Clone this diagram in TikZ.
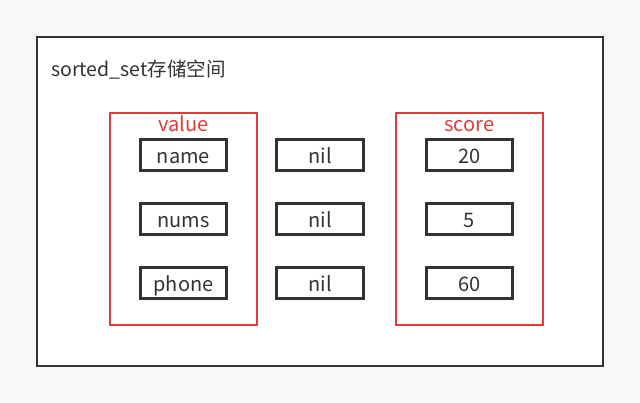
\documentclass[tikz,border=0pt]{standalone}
\usepackage{fontspec}
\setmainfont{Noto Sans CJK SC}
\definecolor{redline}{RGB}{229,57,53}
\definecolor{darkline}{RGB}{51,51,51}
\definecolor{pagebg}{RGB}{248,248,248}

\begin{document}
\begin{tikzpicture}[x=1pt,y=-1pt,
  cell/.style={draw=darkline,line width=2.6pt,minimum width=86.5pt,minimum height=31.5pt,
    inner sep=0pt,text height=16.5pt,text depth=0pt,text=darkline,
    font=\fontsize{20}{24}\selectfont},
  group/.style={draw=redline,line width=2.4pt},
  grouplabel/.style={text=redline,inner sep=0pt,anchor=base,
    font=\fontsize{20}{24}\selectfont}]
  % page and outer frame
  \fill[pagebg] (0,0) rectangle (640,403);
  \draw[darkline,line width=2.6pt,fill=white] (37,37) rectangle (603,366);
  \node[anchor=base west,inner sep=0pt,text=darkline,
    font=\fontsize{19.5}{24}\selectfont] (title) at (51,76.5) {sorted\_set存储空间};

  % red groups
  \draw[group] (110,113) rectangle (257,325);
  \draw[group] (396,113) rectangle (543,325);
  \node[grouplabel] (vlabel) at (183.5,131.5) {value};
  \node[grouplabel] (slabel) at (469.5,131.5) {score};

  \foreach \y/\v/\s [count=\i] in {155/name/20, 219/nums/5, 283/phone/60}{
    \node[cell] (val\i) at (183.5,\y) {\v};
    \node[cell] (nil\i) at (320,\y) {nil};
    \node[cell] (score\i) at (469.5,\y) {\s};
  }
\end{tikzpicture}
\end{document}
